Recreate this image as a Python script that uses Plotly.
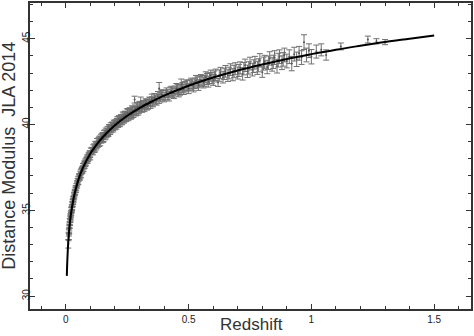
import plotly.graph_objects as go

# model curve (redshift, distance modulus)
curve_z = [0.004, 0.006, 0.01, 0.015, 0.02, 0.03, 0.04, 0.05, 0.07, 0.10, 0.12, 0.15, 0.20,
           0.25, 0.30, 0.35, 0.40, 0.50, 0.60, 0.70, 0.80, 0.90, 1.00, 1.10, 1.20, 1.30, 1.40, 1.50]
curve_mu = [31.18, 32.06, 33.18, 34.06, 34.70, 35.59, 36.23, 36.73, 37.50, 38.31, 38.73, 39.26, 39.96,
            40.51, 40.96, 41.34, 41.68, 42.26, 42.74, 43.15, 43.50, 43.82, 44.10, 44.36, 44.59, 44.81, 45.00, 45.19]

# supernovae (set A): redshift, distance modulus, error
sn_z = [0.010, 0.011, 0.012, 0.013, 0.014, 0.015, 0.016, 0.017, 0.018, 0.019, 0.020, 0.021, 0.022, 0.023,
        0.024, 0.025, 0.026, 0.027, 0.028, 0.029, 0.030, 0.032, 0.033, 0.035, 0.036, 0.038, 0.040, 0.042,
        0.045, 0.047, 0.050, 0.053, 0.055, 0.058, 0.060, 0.063, 0.065, 0.068, 0.070, 0.073, 0.075, 0.078,
        0.080, 0.083, 0.085, 0.088, 0.090, 0.093, 0.095, 0.098, 0.100,
        0.105, 0.110, 0.115, 0.118, 0.120, 0.124, 0.127, 0.130, 0.133, 0.136, 0.140, 0.143, 0.146, 0.150,
        0.153, 0.156, 0.160, 0.163, 0.166, 0.170, 0.173, 0.176, 0.180, 0.183, 0.186, 0.190, 0.193, 0.196,
        0.200, 0.203, 0.206, 0.210, 0.213, 0.216, 0.220, 0.224, 0.228, 0.232, 0.236, 0.240, 0.245, 0.250,
        0.255, 0.260, 0.265, 0.270, 0.275, 0.280, 0.285, 0.290, 0.295, 0.300, 0.305, 0.310, 0.315, 0.320,
        0.325, 0.330, 0.340, 0.345, 0.350, 0.355, 0.360, 0.370, 0.375, 0.380, 0.380, 0.390, 0.400,
        0.410, 0.420, 0.430, 0.440, 0.450, 0.460, 0.470, 0.470, 0.480, 0.490, 0.500, 0.510, 0.520, 0.530,
        0.540, 0.550, 0.560, 0.570, 0.580, 0.590, 0.600, 0.610, 0.620, 0.630, 0.640, 0.650, 0.660, 0.670,
        0.680, 0.690, 0.700,
        0.710, 0.720, 0.730, 0.740, 0.750, 0.760, 0.770, 0.780, 0.790, 0.800, 0.810, 0.820, 0.830, 0.840,
        0.850, 0.860, 0.870, 0.880, 0.890, 0.900, 0.910, 0.920, 0.930, 0.940, 0.950, 0.960, 0.970, 0.980,
        0.990, 1.000, 1.020, 1.040, 1.060, 1.120, 1.230, 1.265, 1.300]
sn_mu = [33.05, 33.45, 33.50, 33.78, 33.88, 34.15, 34.12, 34.30, 34.50, 34.48, 34.78, 34.72, 34.98, 35.02,
         35.15, 35.10, 35.32, 35.35, 35.48, 35.52, 35.65, 35.70, 35.86, 35.92, 36.05, 36.08, 36.30, 36.28,
         36.55, 36.58, 36.80, 36.85, 37.00, 36.98, 37.20, 37.25, 37.35, 37.40, 37.58, 37.55, 37.72, 37.70,
         37.85, 37.90, 37.95, 38.10, 38.00, 38.20, 38.15, 38.32, 38.25,
         38.50, 38.40, 38.70, 38.62, 38.85, 38.70, 39.00, 38.85, 39.05, 39.10, 38.95, 39.25, 39.12, 39.35,
         39.20, 39.45, 39.30, 39.60, 39.45, 39.70, 39.50, 39.80, 39.62, 39.90, 39.75, 39.95, 39.78, 40.05,
         39.90, 40.10, 39.95, 40.25, 40.05, 40.30, 40.10, 40.35, 40.20, 40.50, 40.30, 40.55, 40.40, 40.70,
         40.45, 40.75, 40.55, 40.85, 40.65, 41.45, 40.75, 41.05, 40.80, 41.10, 41.30, 40.95, 41.15, 41.00,
         41.25, 41.10, 41.35, 41.20, 41.50, 41.30, 41.55, 41.40, 41.65, 41.50, 42.10, 41.75, 41.60,
         41.85, 41.65, 41.95, 41.80, 42.10, 41.90, 42.05, 42.35, 42.05, 42.30, 42.10, 42.40, 42.20, 42.55,
         42.30, 42.60, 42.45, 42.75, 42.50, 42.85, 42.60, 42.90, 42.45, 43.00, 42.75, 43.10, 42.85, 43.20,
         42.90, 43.25, 43.00,
         43.30, 42.95, 43.45, 43.10, 43.55, 43.20, 43.60, 43.30, 43.75, 43.05, 43.65, 43.35, 43.85, 43.50,
         43.90, 43.40, 43.95, 43.60, 44.05, 43.70, 43.95, 43.55, 44.10, 43.80, 44.15, 43.90, 44.80, 44.05,
         44.30, 43.95, 44.25, 44.35, 44.05, 44.55, 44.95, 44.85, 44.80]
sn_err = [0.25, 0.22, 0.20, 0.20, 0.22, 0.18, 0.18, 0.19, 0.17, 0.18, 0.17, 0.16, 0.17, 0.16,
          0.16, 0.15, 0.16, 0.15, 0.15, 0.15, 0.15, 0.15, 0.16, 0.15, 0.15, 0.15, 0.14, 0.15,
          0.15, 0.15, 0.15, 0.15, 0.14, 0.15, 0.15, 0.15, 0.15, 0.15, 0.15, 0.15, 0.15, 0.15,
          0.15, 0.16, 0.15, 0.16, 0.16, 0.16, 0.16, 0.16, 0.16,
          0.17, 0.17, 0.17, 0.18, 0.17, 0.18, 0.18, 0.18, 0.18, 0.18, 0.19, 0.18, 0.19, 0.18,
          0.19, 0.19, 0.19, 0.19, 0.20, 0.19, 0.20, 0.20, 0.20, 0.20, 0.20, 0.20, 0.21, 0.20,
          0.21, 0.20, 0.22, 0.21, 0.22, 0.21, 0.22, 0.22, 0.22, 0.23, 0.22, 0.22, 0.23, 0.23,
          0.23, 0.23, 0.24, 0.24, 0.24, 0.20, 0.25, 0.24, 0.25, 0.25, 0.30, 0.24, 0.25, 0.25,
          0.25, 0.26, 0.25, 0.26, 0.27, 0.27, 0.26, 0.27, 0.27, 0.27, 0.35, 0.28, 0.28,
          0.28, 0.28, 0.28, 0.29, 0.29, 0.29, 0.30, 0.30, 0.30, 0.30, 0.30, 0.30, 0.30, 0.31,
          0.31, 0.31, 0.32, 0.32, 0.32, 0.32, 0.32, 0.33, 0.23, 0.33, 0.33, 0.34, 0.34, 0.34,
          0.35, 0.35, 0.35,
          0.35, 0.36, 0.36, 0.36, 0.37, 0.37, 0.37, 0.38, 0.38, 0.30, 0.38, 0.39, 0.39, 0.39,
          0.40, 0.40, 0.40, 0.40, 0.40, 0.40, 0.40, 0.42, 0.40, 0.42, 0.40, 0.40, 0.43, 0.40,
          0.40, 0.42, 0.38, 0.35, 0.30, 0.20, 0.20, 0.15, 0.15]

# supernovae (set B): redshift, distance modulus, error
sn2_z = [0.012, 0.014, 0.016, 0.018, 0.020, 0.022, 0.024, 0.026, 0.028, 0.030, 0.031, 0.034, 0.037, 0.039,
         0.041, 0.043, 0.046, 0.048, 0.051, 0.054, 0.057, 0.059, 0.062, 0.064, 0.067, 0.069, 0.072, 0.074,
         0.077, 0.079, 0.082, 0.086, 0.089, 0.092, 0.096, 0.099,
         0.102, 0.108, 0.112, 0.117, 0.122, 0.126, 0.131, 0.135, 0.138, 0.142, 0.148, 0.152, 0.158, 0.162,
         0.168, 0.172, 0.178, 0.182, 0.188, 0.192, 0.198, 0.202, 0.208, 0.212, 0.218, 0.222, 0.226, 0.230,
         0.234, 0.238, 0.242, 0.248, 0.252, 0.258, 0.262, 0.268, 0.272, 0.278, 0.282, 0.288, 0.292, 0.298,
         0.302, 0.308, 0.318, 0.328, 0.335, 0.342, 0.352, 0.365, 0.385, 0.395, 0.405, 0.415, 0.425, 0.435,
         0.445, 0.455, 0.465, 0.475, 0.485, 0.495, 0.505, 0.515, 0.525, 0.535, 0.545, 0.555, 0.565, 0.575,
         0.585, 0.595, 0.605, 0.625, 0.645, 0.665, 0.685, 0.705, 0.725, 0.745, 0.765, 0.785, 0.805, 0.825,
         0.845, 0.865, 0.885]
sn2_mu = [33.70, 34.00, 34.35, 34.62, 34.60, 34.85, 35.05, 35.20, 35.38, 35.50, 35.62, 35.80, 36.00, 36.20,
          36.18, 36.40, 36.45, 36.70, 36.65, 36.95, 36.90, 37.10, 37.05, 37.28, 37.30, 37.45, 37.40, 37.62,
          37.60, 37.78, 37.75, 38.00, 37.90, 38.05, 38.25, 38.10,
          38.45, 38.45, 38.65, 38.55, 38.80, 38.80, 39.00, 38.90, 39.15, 39.10, 39.30, 39.15, 39.50, 39.35,
          39.60, 39.55, 39.75, 39.70, 39.92, 39.85, 40.05, 39.95, 40.15, 40.15, 40.30, 40.20, 40.35, 40.25,
          40.45, 40.35, 40.55, 40.45, 40.65, 40.55, 40.70, 40.60, 40.80, 40.75, 40.90, 40.80, 41.00, 40.90,
          41.05, 41.00, 41.10, 41.20, 41.15, 41.30, 41.35, 41.45, 41.60, 41.70, 41.70, 41.75, 41.90, 41.85,
          41.95, 42.05, 42.00, 42.15, 42.20, 42.25, 42.30, 42.30, 42.40, 42.45, 42.50, 42.55, 42.55, 42.65,
          42.70, 42.70, 42.80, 42.85, 42.95, 43.00, 43.10, 43.15, 43.25, 43.30, 43.40, 43.45, 43.55, 43.60,
          43.65, 43.75, 43.80]
sn2_err = [0.20, 0.20, 0.18, 0.17, 0.17, 0.16, 0.16, 0.15, 0.15, 0.15, 0.15, 0.15, 0.15, 0.15,
           0.15, 0.15, 0.15, 0.15, 0.15, 0.15, 0.15, 0.15, 0.15, 0.15, 0.15, 0.15, 0.15, 0.15,
           0.15, 0.15, 0.16, 0.16, 0.16, 0.16, 0.16, 0.16,
           0.17, 0.17, 0.17, 0.18, 0.17, 0.18, 0.18, 0.18, 0.18, 0.18, 0.18, 0.19, 0.19, 0.19,
           0.19, 0.19, 0.20, 0.20, 0.20, 0.20, 0.20, 0.20, 0.21, 0.21, 0.21, 0.22, 0.22, 0.22,
           0.22, 0.22, 0.22, 0.23, 0.23, 0.23, 0.23, 0.24, 0.24, 0.24, 0.24, 0.25, 0.25, 0.25,
           0.25, 0.25, 0.25, 0.26, 0.26, 0.26, 0.27, 0.27, 0.28, 0.28, 0.28, 0.28, 0.28, 0.29,
           0.29, 0.29, 0.29, 0.30, 0.30, 0.30, 0.30, 0.30, 0.30, 0.31, 0.31, 0.31, 0.32, 0.32,
           0.32, 0.32, 0.32, 0.33, 0.33, 0.34, 0.35, 0.35, 0.36, 0.36, 0.37, 0.38, 0.38, 0.39,
           0.39, 0.40, 0.40]

x_ticks = [0, 0.5, 1, 1.5]
x_labels = ["0", "0.5", "1", "1.5"]
y_ticks = [30, 35, 40, 45]
y_labels = ["30", "35", "40", "45"]

FONT = "Liberation Sans, Arial, sans-serif"
AX = "#333333"
ERRC = "#707070"

fig = go.Figure()
for zz, mm, ee in [(sn_z, sn_mu, sn_err), (sn2_z, sn2_mu, sn2_err)]:
    fig.add_trace(go.Scatter(
        x=zz, y=mm, mode="markers",
        marker=dict(size=2, color="#555555"),
        error_y=dict(type="data", array=ee, visible=True, color=ERRC, thickness=1, width=3),
        showlegend=False, hoverinfo="skip"))
fig.add_trace(go.Scatter(
    x=curve_z, y=curve_mu, mode="lines", line=dict(color="black", width=2, shape="spline"),
    showlegend=False))

axis_common = dict(
    showgrid=False, zeroline=False, showline=True, linecolor=AX, linewidth=1.5,
    mirror="ticks", ticks="inside", ticklen=5, tickwidth=1.2, tickcolor=AX,
    tickfont=dict(family=FONT, size=10, color="#222222"),
)
fig.update_xaxes(**axis_common, range=[-0.146, 1.65], tickvals=x_ticks, ticktext=x_labels,
                 minor=dict(dtick=0.1, tick0=0, ticks="inside", ticklen=3, tickcolor=AX, tickwidth=1))
fig.update_yaxes(**axis_common, range=[29.25, 47.08], tickvals=y_ticks, ticktext=y_labels,
                 tickangle=-90, ticklabelstandoff=-6,
                 minor=dict(dtick=1, tick0=30, ticks="inside", ticklen=3, tickcolor=AX, tickwidth=1))

fig.update_layout(
    width=474, height=336,
    margin=dict(l=30, r=1, t=1, b=27),
    plot_bgcolor="white", paper_bgcolor="white",
    font=dict(family=FONT, color="#222222"),
    annotations=[
        dict(text="Redshift", xref="paper", yref="paper", x=0.502, y=-0.012, xanchor="center",
             yanchor="top", showarrow=False, font=dict(size=17, family=FONT, color="#333333")),
        dict(text="Distance Modulus  JLA 2014", xref="paper", yref="paper", x=-0.048, y=0.50,
             xanchor="center", yanchor="middle", textangle=-90, showarrow=False,
             font=dict(size=18, family=FONT, color="#333333")),
    ],
)

fig.write_html("out.html")
